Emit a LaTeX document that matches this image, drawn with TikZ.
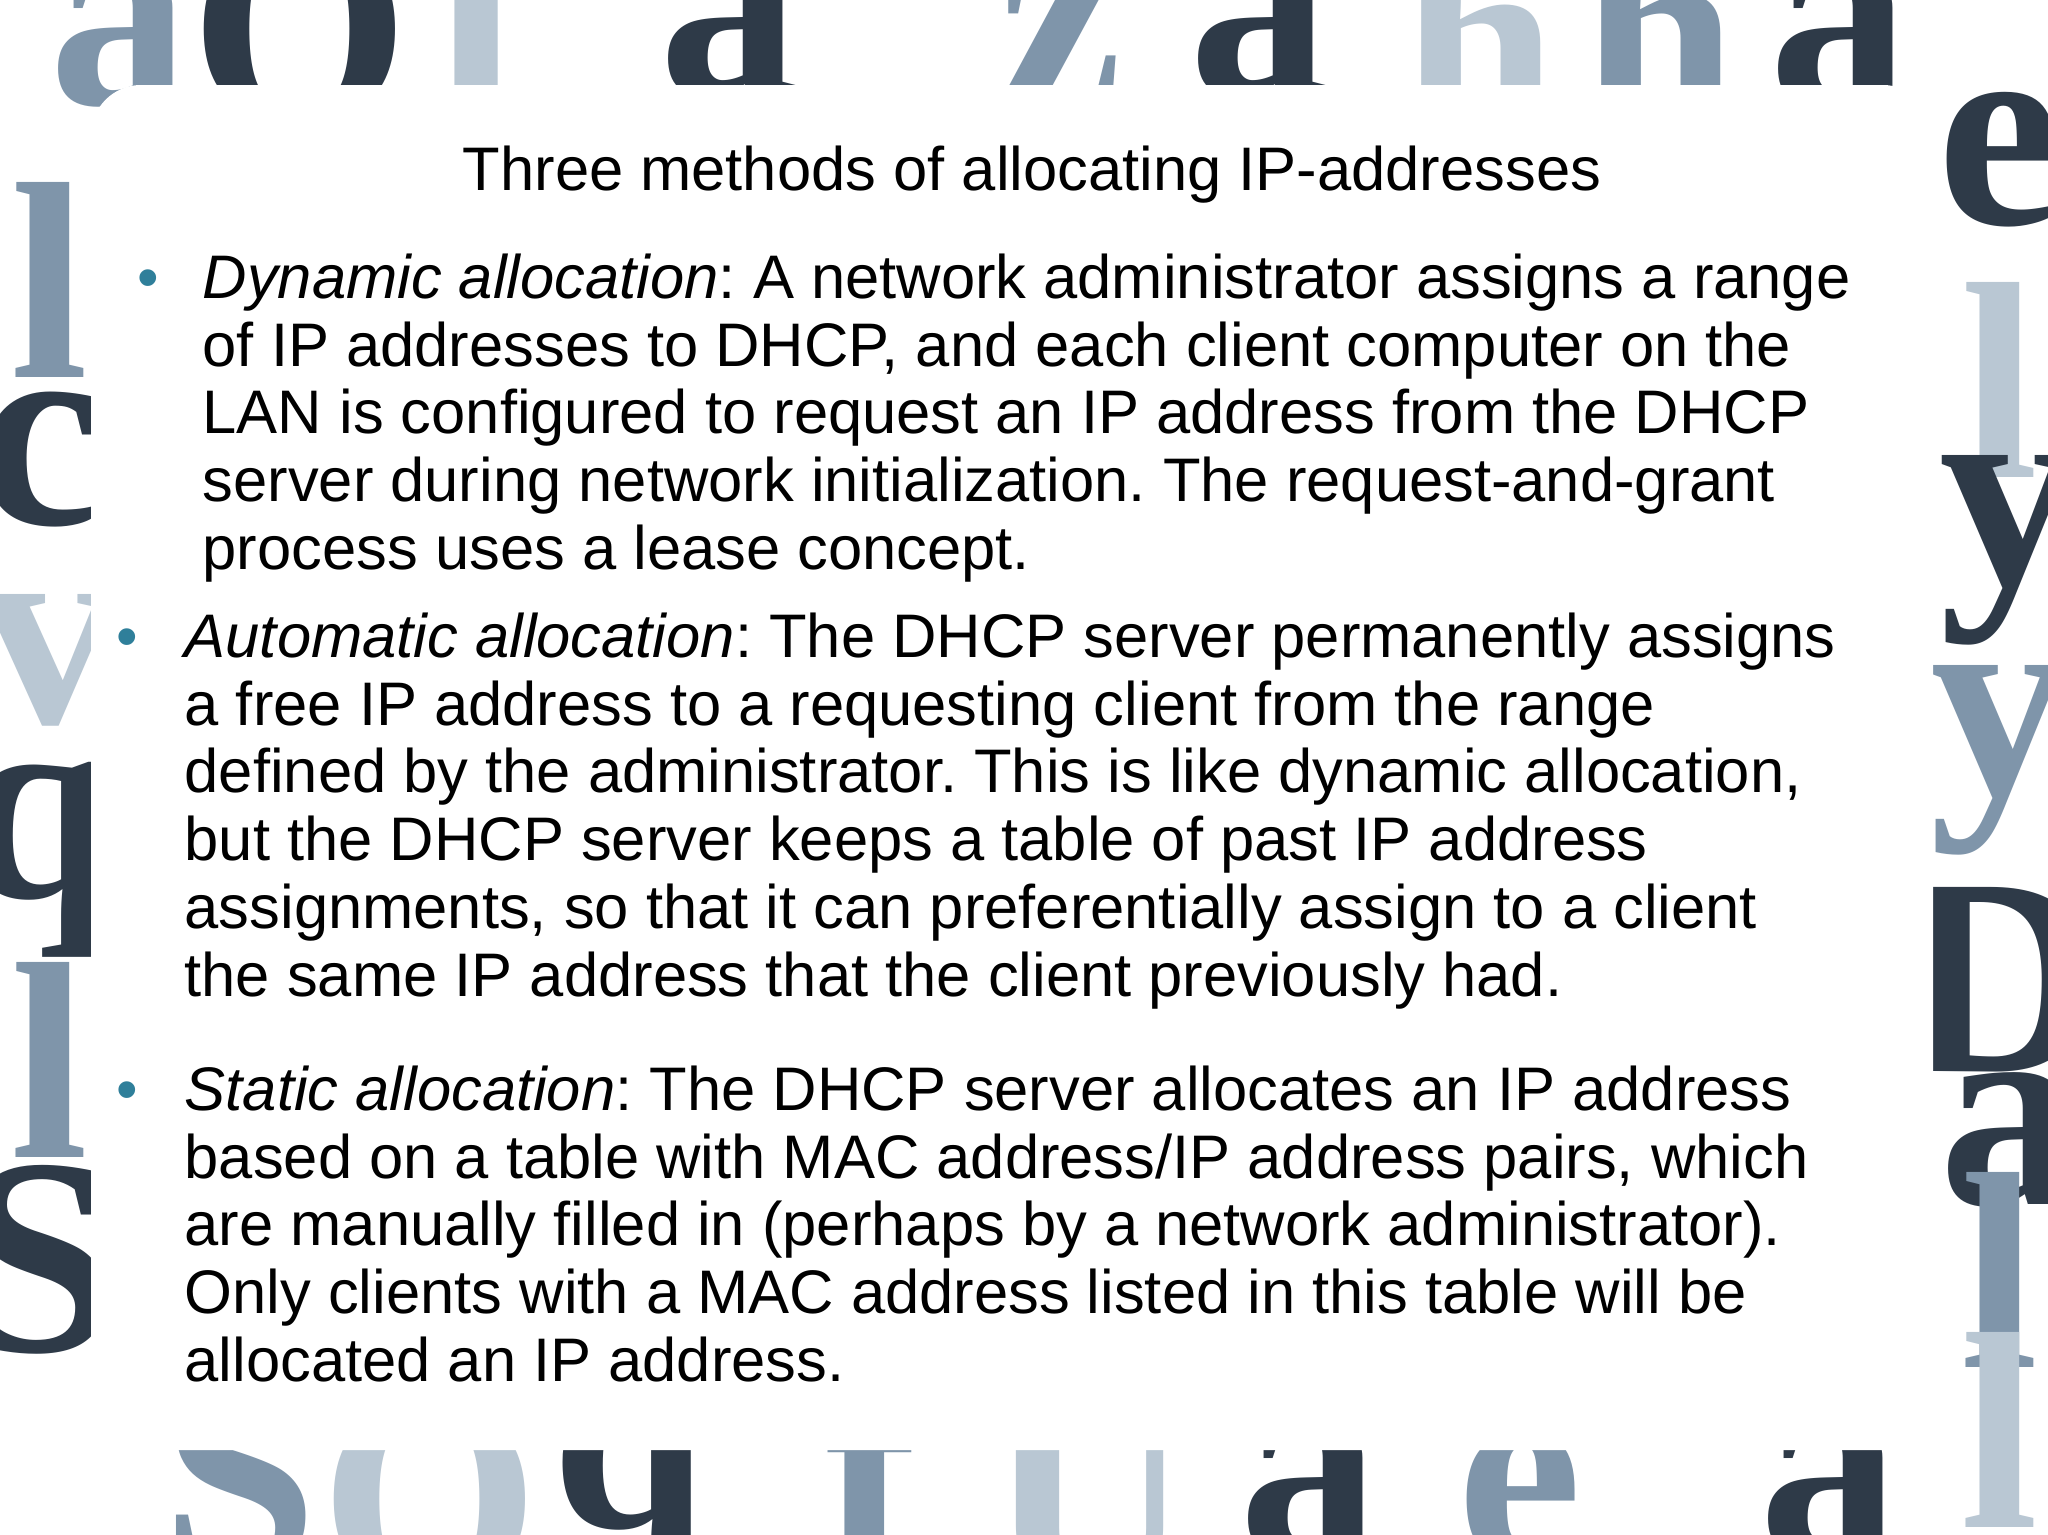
\documentclass[tikz,border=0pt]{standalone}
\usepackage{fontspec}
\setmainfont{Liberation Sans}
\setsansfont{Liberation Serif}
\frenchspacing
\begin{document}
\begin{tikzpicture}[
  para/.style={anchor=north west,inner sep=0pt,align=left,font=\fontsize{17.5}{19.3}\selectfont},
  bul/.style={anchor=base,inner sep=0pt,text=bulc,font=\fontsize{17.5}{19.3}\selectfont},
  deco/.style={inner sep=0pt,font=\sffamily\bfseries\fontsize{80}{80}\selectfont},
]
\definecolor{bulc}{HTML}{2F7F9A}
\definecolor{d1}{HTML}{2E3A48}
\definecolor{d2}{HTML}{7F95AA}
\definecolor{d3}{HTML}{B9C7D3}
\useasboundingbox (0,0) rectangle (20.48,-15.35);
\fill[white] (0,0) rectangle (20.48,-15.35);
% decorative letters
\node[deco,text=d2] (l1) at (1.2,-0.4) {a};
\node[deco,text=d1] (l2) at (3.0,-0.3) {O};
\node[deco,text=d3] (l3) at (5.2,-0.5) {L};
\node[deco,text=d1] (l4) at (7.3,-0.3) {a};
\node[deco,text=d2] (l5) at (10.6,-0.4) {z};
\node[deco,text=d1] (l6) at (12.6,-0.3) {a};
\node[deco,text=d3] (l7) at (14.8,-0.4) {h};
\node[deco,text=d2] (l8) at (16.6,-0.3) {h};
\node[deco,text=d1] (l9) at (18.4,-0.4) {a};
\node[deco,text=d1] (r1) at (20.0,-1.6) {e};
\node[deco,text=d3] (r2) at (20.0,-3.8) {l};
\node[deco,text=d1] (r3) at (20.1,-5.5) {y};
\node[deco,text=d2] (r4) at (20.0,-7.6) {y};
\node[deco,text=d1] (r5) at (20.0,-9.8) {D};
\node[deco,text=d1] (r6) at (20.1,-11.4) {a};
\node[deco,text=d2] (r7) at (20.0,-12.7) {l};
\node[deco,text=d3] (r8) at (20.0,-14.3) {l};
\node[deco,text=d2] (b1) at (2.4,-14.8) {S};
\node[deco,text=d3] (b2) at (4.3,-15.0) {O};
\node[deco,text=d1] (b3) at (6.3,-14.9) {q};
\node[deco,text=d2] (b4) at (8.7,-14.9) {t};
\node[deco,text=d3] (b5) at (10.9,-15.0) {U};
\node[deco,text=d1] (b6) at (13.1,-14.9) {a};
\node[deco,text=d2] (b7) at (15.2,-15.0) {e};
\node[deco,text=d1] (b8) at (18.3,-14.9) {a};
\node[deco,text=d2] (k1) at (0.5,-2.8) {l};
\node[deco,text=d1] (k2) at (0.4,-4.6) {c};
\node[deco,text=d3] (k3) at (0.5,-6.6) {v};
\node[deco,text=d1] (k4) at (0.4,-8.6) {q};
\node[deco,text=d2] (k5) at (0.5,-10.6) {l};
\node[deco,text=d1] (k6) at (0.4,-12.6) {S};
% panel
\fill[white,rounded corners=0.5cm] (0.91,-0.85) rectangle (19.33,-14.50);
\node[anchor=base,inner sep=0pt,font=\fontsize{17.5}{19.3}\selectfont] (title) at (10.32,-1.90) {Three methods of allocating IP-addresses};
\node[bul] (b1d) at (1.48,-2.98) {•};
\node[para] (p1) at (2.02,-2.53) {\textit{Dynamic allocation}: A network administrator assigns a range\\
of IP addresses to DHCP, and each client computer on the\\
LAN is configured to request an IP address from the DHCP\\
server during network initialization. The request-and-grant\\
process uses a lease concept.};
\node[bul] (b2d) at (1.27,-6.57) {•};
\node[para] (p2) at (1.84,-6.12) {\textit{Automatic allocation}: The DHCP server permanently assigns\\
a free IP address to a requesting client from the range\\
defined by the administrator. This is like dynamic allocation,\\
but the DHCP server keeps a table of past IP address\\
assignments, so that it can preferentially assign to a client\\
the same IP address that the client previously had.};
\node[bul] (b3d) at (1.27,-11.10) {•};
\node[para] (p3) at (1.84,-10.65) {\textit{Static allocation}: The DHCP server allocates an IP address\\
based on a table with MAC address/IP address pairs, which\\
are manually filled in (perhaps by a network administrator).\\
Only clients with a MAC address listed in this table will be\\
allocated an IP address.};
\end{tikzpicture}
\end{document}
